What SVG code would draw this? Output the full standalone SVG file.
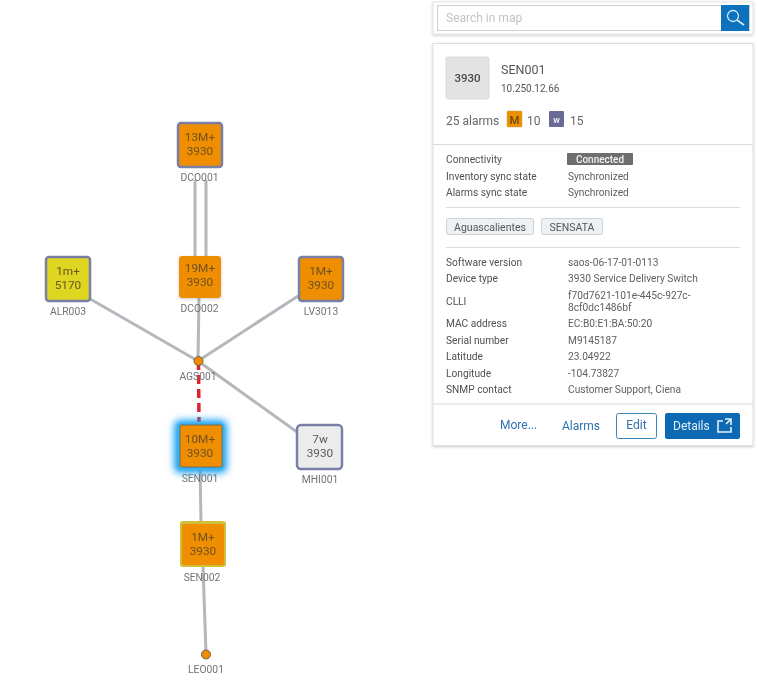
<svg xmlns="http://www.w3.org/2000/svg" width="757" height="691" viewBox="0 0 757 691">
<defs>
<filter id="blur" x="-20%" y="-20%" width="140%" height="140%"><feGaussianBlur stdDeviation="0.45"/></filter>
<filter id="glow" x="-50%" y="-50%" width="200%" height="200%"><feGaussianBlur stdDeviation="3.500"/></filter>
<filter id="shadow" x="-10%" y="-10%" width="120%" height="120%"><feDropShadow dx="0" dy="1" stdDeviation="1.500" flood-color="#000" flood-opacity="0.2"/></filter>
</defs>
<style>
text{font-family:Roboto,"Liberation Sans",sans-serif;}
.link{stroke:#b4b8bc;stroke-width:3;fill:none;}
.nt{font-size:11.8px;fill:#6e5220;text-anchor:middle;}
.nl{font-size:10.3px;fill:#737377;text-anchor:middle;}
.org{fill:#ef8e00;}
.box{stroke-width:2.500;}
.dot{fill:#f08c00;stroke:#6b6250;stroke-width:1;}
.k{font-size:10.2px;fill:#505050;}
.v{font-size:10.2px;fill:#606060;}
.hr{stroke:#dcdcdc;stroke-width:1;}
.chip{fill:#eef1f3;stroke:#ccd2d6;stroke-width:1;}
.link2{font-size:12px;fill:#2f6fb0;}
</style>
<rect width="757" height="691" fill="#fff"/>
<g id="connectors" filter="url(#blur)">
<line class="link" x1="195" y1="180" x2="195" y2="256"/>
<line class="link" x1="206" y1="180" x2="206" y2="256"/>
<line class="link" x1="199" y1="296" x2="198" y2="361"/>
<line class="link" x1="85" y1="296" x2="198" y2="361"/>
<line class="link" x1="298" y1="296" x2="198" y2="361"/>
<line class="link" x1="198" y1="361" x2="297" y2="432"/>
<line x1="198.500" y1="361" x2="199" y2="422" stroke="#e0222e" stroke-width="3.500" stroke-dasharray="9 5"/>
<line class="link" x1="200" y1="466" x2="201" y2="522"/>
<line class="link" x1="203" y1="566" x2="206" y2="654"/>
</g>
<g id="node-DCO001" filter="url(#blur)">
<rect class="org box" x="178" y="123" width="44" height="44" rx="3" stroke="#7a7fa8"/>
<text class="nt" x="200" y="140.500">13M+</text><text class="nt" x="200" y="154.500">3930</text>
<text class="nl" x="199.500" y="181">DCO001</text>
</g>
<g id="node-DCO002" filter="url(#blur)">
<rect class="org" x="179" y="256" width="42" height="42" rx="3" filter="url(#shadow)"/>
<text class="nt" x="200" y="271.500">19M+</text><text class="nt" x="200" y="285.500">3930</text>
<text class="nl" x="199.500" y="312">DCO002</text>
</g>
<g id="node-ALR003" filter="url(#blur)">
<rect x="46" y="257" width="44" height="44" rx="3" fill="#dfd622" stroke="#7a7fa8" stroke-width="2.500"/>
<text class="nt" x="68" y="274.500">1m+</text><text class="nt" x="68" y="288.500">5170</text>
<text class="nl" x="68" y="315">ALR003</text>
</g>
<g id="node-LV3013" filter="url(#blur)">
<rect class="org box" x="299" y="257" width="44" height="44" rx="3" stroke="#7a7fa8"/>
<text class="nt" x="321" y="274.500">1M+</text><text class="nt" x="321" y="288.500">3930</text>
<text class="nl" x="321" y="315">LV3013</text>
</g>
<g id="node-AGS001" filter="url(#blur)">
<circle class="dot" cx="198.500" cy="361" r="4.500"/>
<text class="nl" x="198" y="380">AGS001</text>
</g>
<g id="node-SEN001" filter="url(#blur)">
<rect x="174" y="420" width="53" height="53" rx="6" fill="#12a0f5" filter="url(#glow)"/>
<rect x="177" y="423" width="47" height="47" rx="4" fill="#37b0f2"/>
<rect class="org" x="180" y="425" width="42" height="42" rx="2" stroke="#7d6a50" stroke-width="1"/>
<text class="nt" x="200" y="442.500">10M+</text><text class="nt" x="200" y="456.500">3930</text>
<text class="nl" x="200" y="482">SEN001</text>
</g>
<g id="node-MHI001" filter="url(#blur)">
<rect x="297" y="425" width="45" height="44" rx="4" fill="#ececec" stroke="#7a7fa8" stroke-width="2.500"/>
<text class="nt" style="fill:#5a5a5a" x="320" y="442.500">7w</text><text class="nt" style="fill:#5a5a5a" x="320" y="456.500">3930</text>
<text class="nl" x="320" y="483">MHI001</text>
</g>
<g id="node-SEN002" filter="url(#blur)">
<rect x="180" y="521" width="46" height="46" rx="3" fill="#cfc038"/>
<rect class="org" x="182" y="524" width="42" height="41" rx="2"/>
<text class="nt" x="203" y="540.500">1M+</text><text class="nt" x="203" y="554.500">3930</text>
<text class="nl" x="202" y="581">SEN002</text>
</g>
<g id="node-LEO001" filter="url(#blur)">
<circle class="dot" cx="206" cy="654.500" r="4.500"/>
<text class="nl" x="206" y="673">LEO001</text>
</g>
<g id="search" filter="url(#blur)">
<rect x="433" y="2" width="320" height="32" fill="#fff" stroke="#e2e2e2" filter="url(#shadow)"/>
<rect x="437.500" y="5.500" width="312" height="25" fill="#fff" stroke="#cfcfcf"/>
<text x="446" y="22" font-size="12" fill="#c0c4c8">Search in map</text>
<rect x="721" y="5" width="28" height="26" fill="#0a72bd"/>
<circle cx="733" cy="16" r="5.500" fill="none" stroke="#d8ecf8" stroke-width="1.300"/>
<line x1="737" y1="20" x2="744" y2="25" stroke="#d8ecf8" stroke-width="1.600"/>
</g>
<g id="details" filter="url(#blur)">
<rect x="433" y="43.500" width="320" height="402" fill="#fff" stroke="#dedede" filter="url(#shadow)"/>
<rect x="446" y="57" width="43" height="42" rx="2" fill="#e3e3e3" stroke="#dadada"/>
<text x="467.500" y="82" font-size="11.500" font-weight="500" fill="#4a4a4a" text-anchor="middle">3930</text>
<text x="501" y="74" font-size="12.500" fill="#555">SEN001</text>
<text x="501" y="92" font-size="10" fill="#555">10.250.12.66</text>
<text x="446" y="125" font-size="12" fill="#666">25 alarms</text>
<rect x="507" y="111" width="15" height="16" rx="1" fill="#ee8f00" stroke="#c9a050" stroke-width="0.500"/>
<text x="514.500" y="123.500" font-size="11.500" font-weight="500" fill="#6a4a10" text-anchor="middle">M</text>
<text x="527" y="125" font-size="12" fill="#666">10</text>
<rect x="549" y="111" width="15" height="16" rx="1" fill="#6a6a96"/>
<text x="556.500" y="123" font-size="9" font-weight="700" fill="#e8e8f2" text-anchor="middle">w</text>
<text x="570" y="125" font-size="12" fill="#666">15</text>
<line class="hr" x1="433" y1="144.500" x2="753" y2="144.500"/>
<text class="k" x="446" y="163">Connectivity</text>
<rect x="567" y="153" width="66" height="12" rx="1" fill="#6e6e6e"/>
<text x="600" y="162.500" font-size="10" font-weight="500" fill="#f2f2f2" text-anchor="middle">Connected</text>
<text class="k" x="446" y="180">Inventory sync state</text><text class="v" x="568" y="180">Synchronized</text>
<text class="k" x="446" y="196">Alarms sync state</text><text class="v" x="568" y="196">Synchronized</text>
<line class="hr" x1="446" y1="207.500" x2="740" y2="207.500"/>
<rect class="chip" x="446.500" y="218.500" width="87" height="16" rx="2"/>
<text x="490" y="230.500" font-size="10.500" fill="#555" text-anchor="middle">Aguascalientes</text>
<rect class="chip" x="541.500" y="218.500" width="61" height="16" rx="2"/>
<text x="572" y="230.500" font-size="10.500" fill="#555" text-anchor="middle">SENSATA</text>
<line class="hr" x1="446" y1="247.500" x2="740" y2="247.500"/>
<text class="k" x="446" y="266">Software version</text><text class="v" x="568" y="266">saos-06-17-01-0113</text>
<text class="k" x="446" y="282">Device type</text><text class="v" x="568" y="282">3930 Service Delivery Switch</text>
<text class="k" x="446" y="305">CLLI</text><text class="v"><tspan x="568" y="299">f70d7621-101e-445c-927c-</tspan><tspan x="568" y="311">8cf0dc1486bf</tspan></text>
<text class="k" x="446" y="327">MAC address</text><text class="v" x="568" y="327">EC:B0:E1:BA:50:20</text>
<text class="k" x="446" y="344">Serial number</text><text class="v" x="568" y="344">M9145187</text>
<text class="k" x="446" y="360">Latitude</text><text class="v" x="568" y="360">23.04922</text>
<text class="k" x="446" y="377">Longitude</text><text class="v" x="568" y="377">-104.73827</text>
<text class="k" x="446" y="393">SNMP contact</text><text class="v" x="568" y="393">Customer Support, Ciena</text>
<line class="hr" x1="433" y1="404" x2="753" y2="404"/>
<text class="link2" x="500" y="429">More...</text>
<text class="link2" x="562" y="430">Alarms</text>
<rect x="616.500" y="413.500" width="40" height="25" rx="2" fill="#fff" stroke="#3d87b8"/>
<text class="link2" x="636.500" y="429" text-anchor="middle">Edit</text>
<rect x="665" y="413" width="75" height="26" rx="2" fill="#0a69b4"/>
<text x="673" y="430" font-size="12" fill="#e4f0f8">Details</text>
<path d="M723 421h-5v11h13v-5M725 419h6v6M731 419l-5 5" fill="none" stroke="#e4f0f8" stroke-width="1.600"/>
</g>
</svg>
